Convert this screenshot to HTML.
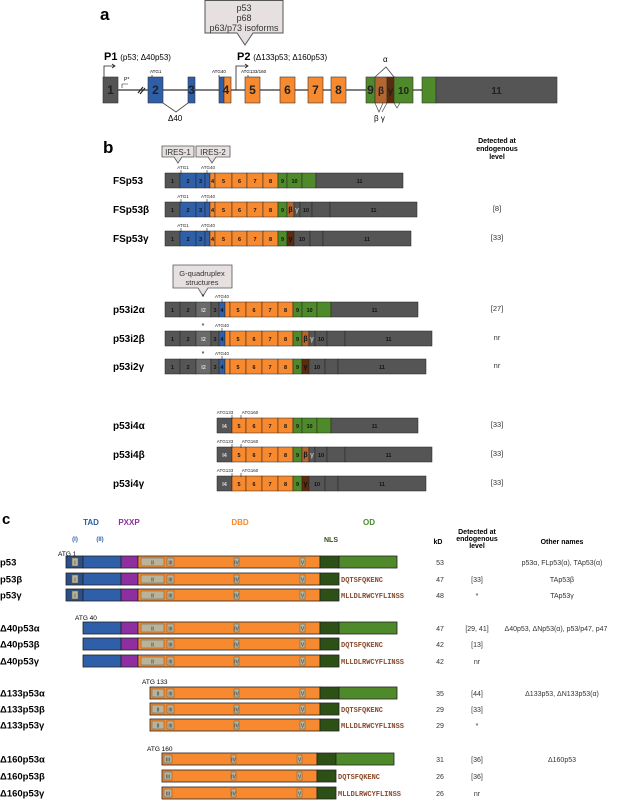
<!DOCTYPE html>
<html><head><meta charset="utf-8"><style>
html,body{margin:0;padding:0;background:#fff;}
svg{display:block;font-family:"Liberation Sans",sans-serif;}
</style></head><body>
<svg id="fig" width="627" height="801" viewBox="0 0 627 801">
<g id="secA">
 <text x="100" y="20" font-size="17" font-weight="bold">a</text>
 <path d="M205,0.5 H283 V33 H253 L245,45 L237,33 H205 Z" fill="#e6e0e0" stroke="#555" stroke-width="1"/>
 <text x="244" y="11" font-size="9" text-anchor="middle" fill="#333">p53</text>
 <text x="244" y="21" font-size="9" text-anchor="middle" fill="#333">p68</text>
 <text x="244" y="31" font-size="9" text-anchor="middle" fill="#333">p63/p73 isoforms</text>
 <text x="104" y="60" font-size="10"><tspan font-weight="bold" font-size="11">P1</tspan> <tspan font-size="8">(p53; Δ40p53)</tspan></text>
 <text x="237" y="60" font-size="10"><tspan font-weight="bold" font-size="11">P2</tspan> <tspan font-size="8">(Δ133p53; Δ160p53)</tspan></text>
 <path d="M104,77 V66 H115 M112,64 L115,66 L112,68" fill="none" stroke="#222" stroke-width="0.8"/>
 <path d="M236,90 V66 H248 M245,64 L248,66 L245,68" fill="none" stroke="#222" stroke-width="0.8"/>
 <line x1="118" y1="90" x2="436" y2="90" stroke="#333" stroke-width="1.2"/>
 <line x1="436" y1="90" x2="420" y2="90" stroke="#333" stroke-width="1.2"/>
 <path d="M122,88 V84 H128" fill="none" stroke="#222" stroke-width="0.6"/>
 <text x="124" y="81" font-size="5">P*</text>
 <path d="M138,93 L143,87 M140,94 L145,88" stroke="#222" stroke-width="1.2"/>
 <g id="exonsA"></g>
 <path d="M163,103 L176,112 L188,103" fill="none" stroke="#444" stroke-width="0.8"/>
 <text x="168" y="121" font-size="8">Δ40</text>
 <path d="M375,77 L386,67 L394,77 M394,77 L396,77" fill="none" stroke="#444" stroke-width="0.8"/>
 <text x="383" y="62" font-size="8">α</text>
 <path d="M375,103 L379,112 L383,103 M387,103 L382,112 M394,103 L397,108 L400,103" fill="none" stroke="#444" stroke-width="0.7"/>
 <text x="374" y="121" font-size="8">β γ</text>
 <text x="150" y="73" font-size="4.5">ATG1</text>
 <text x="212" y="73" font-size="4.5">ATG40</text>
 <text x="241" y="73" font-size="4.5">ATG133/160</text>
 <line x1="152" y1="75" x2="152" y2="77" stroke="#222" stroke-width="0.7"/>
 <line x1="219" y1="75" x2="219" y2="77" stroke="#222" stroke-width="0.7"/>
 <line x1="248" y1="75" x2="248" y2="77" stroke="#222" stroke-width="0.7"/>
</g>

<g id="secB">
 <text x="103" y="153" font-size="17" font-weight="bold">b</text>
 <path d="M162,146 H194 V157 H182 L178,163 L174,157 H162 Z" fill="#e6e0e0" stroke="#555" stroke-width="0.8"/>
 <text x="178" y="155" font-size="8" text-anchor="middle" fill="#333">IRES-1</text>
 <path d="M196,146 H230 V157 H216 L212,163 L208,157 H196 Z" fill="#e6e0e0" stroke="#555" stroke-width="0.8"/>
 <text x="213" y="155" font-size="8" text-anchor="middle" fill="#333">IRES-2</text>
 <path d="M173,265 H232 V288 H208 L203,296 L198,288 H173 Z" fill="#e6e0e0" stroke="#555" stroke-width="0.8"/>
 <text x="202" y="276" font-size="7.5" text-anchor="middle" fill="#333">G-quadruplex</text>
 <text x="202" y="285" font-size="7.5" text-anchor="middle" fill="#333">structures</text>
 <text x="497" y="143" font-size="7" font-weight="bold" text-anchor="middle">Detected at</text>
 <text x="497" y="151" font-size="7" font-weight="bold" text-anchor="middle">endogenous</text>
 <text x="497" y="159" font-size="7" font-weight="bold" text-anchor="middle">level</text>
 <g id="rowsB"></g>
</g>

<g id="secC">
 <text x="2" y="524" font-size="15" font-weight="bold">c</text>
 <text x="91" y="525" font-size="8" font-weight="bold" fill="#2e5fa8" text-anchor="middle">TAD</text>
 <text x="129" y="525" font-size="8" font-weight="bold" fill="#8e2ea0" text-anchor="middle">PXXP</text>
 <text x="240" y="525" font-size="8" font-weight="bold" fill="#f58a2f" text-anchor="middle">DBD</text>
 <text x="369" y="525" font-size="8" font-weight="bold" fill="#4e8a2a" text-anchor="middle">OD</text>
 <text x="75" y="541" font-size="6" font-weight="bold" fill="#2e5fa8" text-anchor="middle">(I)</text>
 <text x="100" y="541" font-size="6" font-weight="bold" fill="#2e5fa8" text-anchor="middle">(II)</text>
 <text x="331" y="542" font-size="7" font-weight="bold" fill="#2d5016" text-anchor="middle">NLS</text>
 <text x="438" y="544" font-size="7" font-weight="bold" text-anchor="middle">kD</text>
 <text x="477" y="534" font-size="7" font-weight="bold" text-anchor="middle">Detected at</text>
 <text x="477" y="541" font-size="7" font-weight="bold" text-anchor="middle">endogenous</text>
 <text x="477" y="548" font-size="7" font-weight="bold" text-anchor="middle">level</text>
 <text x="562" y="544" font-size="7" font-weight="bold" text-anchor="middle">Other names</text>
 <text x="58" y="556" font-size="6.5">ATG 1</text>
 <text x="75" y="620" font-size="6.5">ATG 40</text>
 <text x="142" y="684" font-size="6.5">ATG 133</text>
 <text x="147" y="751" font-size="6.5">ATG 160</text>
 <g id="rowsC"></g>
</g>
</svg>
<script>
const NS='http://www.w3.org/2000/svg';
const G='#555555',B='#2e5fa8',O='#f7892f',GR='#4e8a2a',BR='#b5652e',DBR='#5c2a0c',D='#555555',L='#6a6a6a',PU='#8e2ea0',NLS='#2d5016';
function mk(tag,attrs,parent){const e=document.createElementNS(NS,tag);for(const k in attrs)e.setAttribute(k,attrs[k]);parent.appendChild(e);return e;}

// ---------- panel a exons ----------
const exonStartsA=[103,148,188,219,224,245,280,308,331,366,375,387,394,422,436];
const exonEndsA=[118,163,195,224,231,260,295,323,346,375,387,394,413,436,557];
const exonColorsA=[G,B,B,B,O,O,O,O,O,GR,BR,DBR,GR,GR,G];
const exonLabelsA=['1','2','3','','4','5','6','7','8','9','β','γ','10','','11'];
const ga=document.getElementById('exonsA');
exonStartsA.forEach((s,i)=>{
  const r=mk('rect',{x:s,y:77,width:exonEndsA[i]-s,height:26,fill:exonColorsA[i],stroke:'#333','stroke-width':0.6},ga);
  
  
  if(exonLabelsA[i]){
    const cx=exonLabelsA[i]==='4'?226:(s+exonEndsA[i])/2;
    const t=mk('text',{x:cx,y:94,'font-size':exonLabelsA[i].length>1||i===10||i===11?10:12,'font-weight':'bold','text-anchor':'middle',fill:'#222'},ga);
    t.textContent=exonLabelsA[i];
    
    
  }
});

// ---------- panel b transcripts ----------
const fsPrefix=[[165,180,G,'1'],[180,196,B,'2'],[196,205,B,'3'],[205,210,B,''],[210,215,O,'4'],[215,232,O,'5'],[232,247,O,'6'],[247,263,O,'7'],[263,278,O,'8'],[278,287,GR,'9']];
const i2Prefix=[[165,180,G,'1'],[180,196,G,'2'],[196,211,L,'I2'],[211,219,G,'3'],[219,225,B,'4'],[225,230,O,''],[230,246,O,'5'],[246,262,O,'6'],[262,278,O,'7'],[278,293,O,'8'],[293,302,GR,'9']];
const i4Prefix=[[217,232,G,'I4'],[232,246,O,'5'],[246,262,O,'6'],[262,278,O,'7'],[278,293,O,'8'],[293,302,GR,'9']];
const tailA=[[0,15,GR,'10'],[15,29,GR,''],[29,116,D,'11']];
const tailB=[[0,7,BR,'β'],[7,13,D,'γ'],[13,25,D,'10'],[25,43,D,''],[43,130,D,'11']];
const tailG=[[0,7,DBR,'γ'],[7,23,D,'10'],[23,36,D,''],[36,124,D,'11']];
const rowNamesB=['FSp53','FSp53β','FSp53γ','p53i2α','p53i2β','p53i2γ','p53i4α','p53i4β','p53i4γ'];
const rowTopsB=[173,202,231,302,331,359,418,447,476];
const rowRefsB=['','[8]','[33]','[27]','nr','nr','[33]','[33]','[33]'];
const gb=document.getElementById('rowsB');
rowNamesB.forEach((nm,ri)=>{
  const pre=ri<3?fsPrefix:(ri<6?i2Prefix:i4Prefix);
  const tail=[tailA,tailB,tailG][ri%3];
  const base=pre[pre.length-1][1];
  const segs=pre.concat(tail.map(t=>[base+t[0],base+t[1],t[2],t[3]]));
  const y=rowTopsB[ri];
  const g=mk('g',{},gb);
  
  
  segs.forEach(s=>{
    const r=mk('rect',{x:s[0],y:y,width:s[1]-s[0],height:15,fill:s[2],stroke:'#222','stroke-width':0.5},g);
    
    
    if(s[3]){
      const t=mk('text',{x:(s[0]+s[1])/2,y:y+10,'font-size':s[3]==='β'||s[3]==='γ'?7:5.5,'font-weight':'bold','text-anchor':'middle',fill:(s[3][0]==='I')?'#ddd':(s[2]===D&&(s[3]==='γ')?'#bbb':'#111')},g);
      t.textContent=s[3];
      
      
    }
  });
  const lb=mk('text',{x:113,y:y+11,'font-size':10,'font-weight':'bold'},g);
  lb.textContent=nm;
  
  
  if(rowRefsB[ri]){
    const rf=mk('text',{x:497,y:y+9,'font-size':7.5,'text-anchor':'middle',fill:'#333'},g);
    rf.textContent=rowRefsB[ri];
    
    
  }
  // ATG annotations
  const ann = ri<3?[['ATG1',183],['ATG40',208]]:(ri<6?[['ATG40',222]]:[['ATG133',225],['ATG160',250]]);
  ann.forEach(a=>{
    const t=mk('text',{x:a[1],y:y-4,'font-size':4.5,'text-anchor':'middle',fill:'#222'},g);
    t.textContent=a[0];
    
    
    const tk=a[0]==='ATG133'?232:(a[0]==='ATG160'?241:(a[0]==='ATG1'?181:(ri<3?207:222)));
    mk('line',{x1:tk,y1:y-3,x2:tk,y2:y+1,stroke:'#222','stroke-width':0.6},g);
  });
  if(ri>=3&&ri<6){
    const st=mk('text',{x:203,y:y-3,'font-size':7,'text-anchor':'middle'},g);
    st.textContent='*';
    
    
  }
});

// ---------- panel c proteins ----------
const protNames=['p53','p53β','p53γ','Δ40p53α','Δ40p53β','Δ40p53γ','Δ133p53α','Δ133p53β','Δ133p53γ','Δ160p53α','Δ160p53β','Δ160p53γ'];
const protKd=['53','47','48','47','42','42','35','29','29','31','26','26'];
const protDetected=['','[33]','*','[29, 41]','[13]','nr','[44]','[33]','*','[36]','[36]','nr'];
const protOther=['p53α, FLp53(α), TAp53(α)','TAp53β','TAp53γ','Δ40p53, ΔNp53(α), p53/p47, p47','','','Δ133p53, ΔN133p53(α)','','','Δ160p53','',''];
const protCenters=[562,579,595,628,644,661,693,709,725,759,776,793];
const protStart=[66,66,66,83,83,83,150,150,150,162,162,162];
const gc=document.getElementById('rowsC');
protNames.forEach((nm,i)=>{
  const cy=protCenters[i], y=cy-6, h=12;
  const sh=i>=9?-3:0;
  const g=mk('g',{},gc);
  
  
  const st=protStart[i];
  const segs=[];
  if(st<=66){segs.push([66,83,'#2a4f8a']);}
  if(st<=83){segs.push([83,121,B]);segs.push([121,138,PU]);}
  segs.push([Math.max(st,138)+ (st>138?0:0),320+sh,O]);
  segs.push([320+sh,339+sh,NLS]);
  if(i%3===0) segs.push([339+sh,397+sh,GR]);
  segs.forEach(s=>{
    const r=mk('rect',{x:s[0],y:y,width:s[1]-s[0],height:h,fill:s[2],stroke:'#222','stroke-width':0.8},g);
    
    
  });
  // conserved boxes
  const boxes=[];
  if(st<=66) boxes.push([72,78,'I']);
  if(st<=150) boxes.push([Math.max(st,139)+2,164,'II']);
  boxes.push([st>=162?164:167,st>=162?172:174,'III']);
  boxes.push([234+sh,239+sh,'IV']);
  boxes.push([300+sh,305+sh,'V']);
  boxes.forEach(b=>{
    const r=mk('rect',{x:b[0],y:y+2,width:b[1]-b[0],height:h-4,fill:'#b8b49c',stroke:'#6b5a3a','stroke-width':0.5},g);
    
    
    const t=mk('text',{x:(b[0]+b[1])/2,y:y+8.5,'font-size':5,'text-anchor':'middle',fill:'#555','font-weight':'bold'},g);
    t.textContent=b[2];
  });
  if(i%3!==0){
    const t=mk('text',{x:341+sh,y:cy+3,'font-size':7,'font-family':'Liberation Mono, monospace','font-weight':'bold',fill:'#8b4a2b'},g);
    t.textContent=i%3===1?'DQTSFQKENC':'MLLDLRWCYFLINSS';
    
    
  }
  const lb=mk('text',{x:0,y:cy+3.5,'font-size':9.5,'font-weight':'bold'},g);
  lb.textContent=nm;
  
  
  const kd=mk('text',{x:440,y:cy+3,'font-size':7,'text-anchor':'middle',fill:'#333'},g);
  kd.textContent=protKd[i];
  
  
  if(protDetected[i]){
    const d=mk('text',{x:477,y:cy+3,'font-size':7,'text-anchor':'middle',fill:'#333'},g);
    d.textContent=protDetected[i];
    
    
  }
  if(protOther[i]){
    const o=mk('text',{x:i===3?556:562,y:cy+3,'font-size':7,'text-anchor':'middle',fill:'#333'},g);
    o.textContent=protOther[i];
    
    
  }
});
</script>
</body></html>
